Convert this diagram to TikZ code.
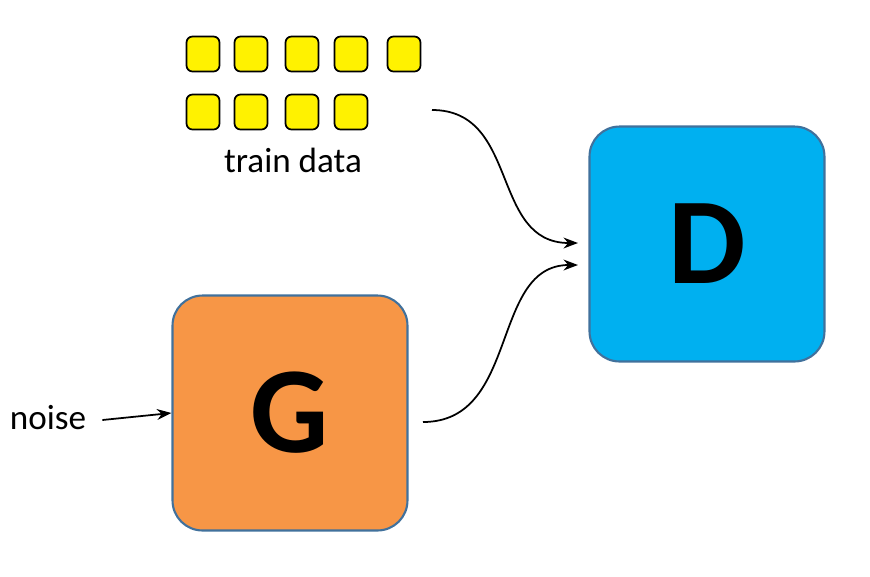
\documentclass[tikz,border=0pt]{standalone}
\usepackage{fontspec}
\setmainfont{Carlito}
\usetikzlibrary{positioning, arrows.meta}
\definecolor{dblue}{HTML}{00B0F0}
\definecolor{gorange}{HTML}{F79646}
\definecolor{edge}{HTML}{41719C}
\begin{document}
\begin{tikzpicture}[
                x=0.02cm, y=-0.02cm,
                block/.style={draw=edge, line width=1.2pt, rounded corners=0.6cm,
                  minimum width=4.7cm, minimum height=4.7cm,
                  font=\fontsize{70}{70}\selectfont\bfseries},
                sample/.style={draw=black, line width=1pt, fill=yellow, rounded corners=0.12cm,
                  minimum width=0.66cm, minimum height=0.7cm, inner sep=0pt},
                label/.style={font=\fontsize{20}{24}\selectfont},
                arrow/.style={draw, line width=1pt, -{Stealth[scale=1.1]}}
              ]
              \useasboundingbox (0,0) rectangle (870,576);

              % train data samples
              \foreach \i/\x in {1/203, 2/251, 3/302, 4/351, 5/404}
                \node (s\i) [sample] at (\x,54) {};
              \foreach \i/\x in {6/203, 7/251, 8/302, 9/351}
                \node (s\i) [sample] at (\x,112) {};
              \node (data) [label] at (293,160) {train data};

              \node (D) [block, fill=dblue] at (707,244) {D};
              \node (G) [block, fill=gorange] at (290,413) {G};
              \node (noise) [label] at (48,418) {noise};

              \coordinate (dataout) at (432,110);
              \coordinate (Gout) at (423,422);
              \coordinate (Din1) at (578,243);
              \coordinate (Din2) at (578,265);

              % Draw arrows
              \draw[arrow] (noise.east) ++(10,2) -- (G.west);
              \draw[arrow] (dataout) .. controls (520,110) and (490,243) .. (Din1);
              \draw[arrow] (Gout) .. controls (520,422) and (490,265) .. (Din2);

            \end{tikzpicture}
\end{document}
